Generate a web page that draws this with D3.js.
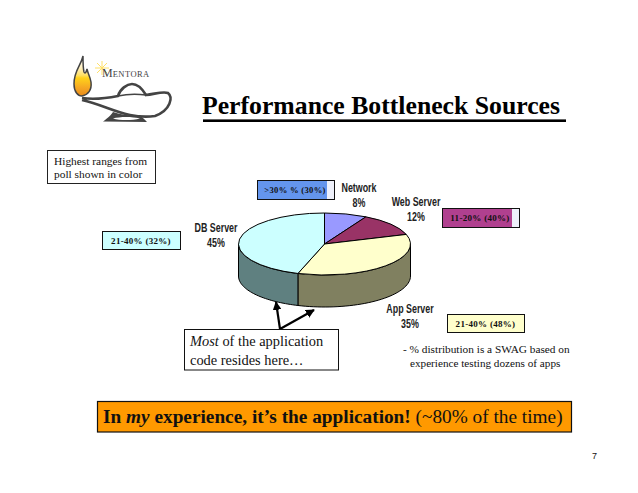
<!DOCTYPE html>
<html><head><meta charset="utf-8">
<script src="https://cdn.jsdelivr.net/npm/d3@7"></script>
<style>html,body{margin:0;padding:0;background:#fff}svg{display:block}
text{font-family:"Liberation Serif",serif;fill:#111}
.lab{font-family:"Liberation Sans",sans-serif;font-weight:700;font-size:12px;text-anchor:middle;fill:#222}
</style></head><body>
<svg id="c" width="638" height="493"></svg>
<script>
const categories=["Network","Web Server","App Server","DB Server"];
const shares=[8,12,35,45];
const topColors=["#9999ff","#993366","#ffffcc","#ccffff"];
const sideColors=["#5c5c99","#5c1f3d","#808060","#5f8080"];
const labelAnchors=[[359,192],[416,206],[410,313],[216,232]];
const pollLabels=[">30% % (30%)","11-20% (40%)","21-40% (48%)","21-40% (32%)"];
const pollFills=["#6495ed","#b0408f","#ffffcc","#ccffff"];
const pollBoxes=[[257,180,77,19,327],[442,208,77,19,512],[447,314,77,18,null],[102,231,78,18,null]];

const svg=d3.select("#c");
const defs=svg.append("defs");
const fg=defs.append("linearGradient").attr("id","fl").attr("x1",0).attr("x2",0).attr("y1",0).attr("y2",1);
[[0,"#ffffff"],[.3,"#fff0c0"],[.48,"#ffe066"],[.55,"#ffd21a"],[.8,"#f5a623"],[1,"#e88a1a"]].forEach(d=>fg.append("stop").attr("offset",d[0]).attr("stop-color",d[1]));
const mk=defs.append("marker").attr("id","ah").attr("viewBox","0 0 10 10").attr("refX",9).attr("refY",5).attr("markerWidth",4).attr("markerHeight",4).attr("orient","auto");
mk.append("path").attr("d","M0,0L10,5L0,10z").attr("fill","#000");

// logo
const logo=svg.append("g");
logo.append("path").attr("d","M83,56C81,66 74,70 74,84C74,92 78,96 82,96C88,95 92,90 91,82C90,76 88,74 87,69C86,73 85,74 84,72C83,68 83,62 83,56Z").attr("fill","url(#fl)").attr("stroke","#444").attr("stroke-width",1.5);
logo.append("path").attr("fill","none").attr("stroke","#444").attr("stroke-width",2.6)
 .attr("d","M82,98C95,100 108,98 118,96C120,89 127,84 132,84C139,84 143,90 146,95C155,94 163,91 168,93C173,97 171,110 155,116C148,117 140,117 130,115C115,112 100,104 82,100");
logo.append("path").attr("fill","none").attr("stroke","#444").attr("stroke-width",1.6).attr("d","M118,96C127,94 138,94 146,95");
logo.append("path").attr("fill","#444").attr("fill-rule","evenodd")
 .attr("d","M103,121.5C108,118 112,114 113,112C125,116 135,116 140,115C142,117 145,120 147,122Z M113,118.5C120,116.5 132,116.5 140,118.5C132,120.5 120,120.5 113,118.5Z");
logo.append("g").attr("stroke","#ffe066").attr("stroke-width",1).selectAll("line").data(d3.range(8)).join("line")
 .attr("x1",102).attr("y1",68).attr("x2",d=>102+7*Math.cos(d*Math.PI/4)).attr("y2",d=>68+7*Math.sin(d*Math.PI/4));
const mt=logo.append("text").attr("x",102).attr("y",77).style("fill","#444");
mt.append("tspan").attr("font-size",12).text("M");
mt.append("tspan").attr("font-size",8.5).attr("letter-spacing",.45).text("ENTORA");

// title
svg.append("text").attr("x",202).attr("y",114).attr("font-size",24.5).attr("font-weight",700).attr("textLength",358).attr("lengthAdjust","spacingAndGlyphs").style("fill","#000").text("Performance Bottleneck Sources");
svg.append("rect").attr("x",203).attr("y",119.4).attr("width",363).attr("height",2.6).attr("fill","#000");

// note box
svg.append("rect").attr("x",47.5).attr("y",150.5).attr("width",108).attr("height",33).attr("fill","#fff").attr("stroke","#222");
["Highest ranges from","poll shown in color"].forEach((t,i)=>svg.append("text").attr("x",54).attr("y",165+i*12.5).attr("font-size",11.4).text(t));

// pie
const cx=324.5,cy=244,rx=86,ry=31,depth=32;
const pie=d3.pie().sort(null).value(d=>d)(shares);
const px=a=>cx+rx*Math.sin(a), py=a=>cy-ry*Math.cos(a);
const side=(a0,a1)=>{
  const p=d3.path();
  const lo=Math.max(a0,Math.PI/2), hi=Math.min(a1,3*Math.PI/2);
  if(hi<=lo) return null;
  const pts=d3.range(0,41).map(i=>lo+(hi-lo)*i/40);
  p.moveTo(px(pts[0]),py(pts[0]));
  pts.forEach(a=>p.lineTo(px(a),py(a)));
  pts.slice().reverse().forEach(a=>p.lineTo(px(a),py(a)+depth));
  p.closePath();
  return p.toString();
};
const pg=svg.append("g");
pg.selectAll("path.side").data(pie).join("path").attr("class","side")
 .attr("d",d=>side(d.startAngle,d.endAngle)).attr("fill",(d,i)=>sideColors[i]).attr("stroke","#000").attr("stroke-width",1);
const arc=d3.arc().innerRadius(0).outerRadius(rx);
pg.append("g").attr("transform",`translate(${cx},${cy}) scale(1,${ry/rx})`)
 .selectAll("path").data(pie).join("path").attr("d",arc).attr("fill",(d,i)=>topColors[i])
 .attr("stroke","#000").attr("stroke-width",1).attr("vector-effect","non-scaling-stroke");

// category labels (condensed)
const narrow=s=>{const n=s.node();n.setAttribute("textLength",n.getComputedTextLength()*0.74);n.setAttribute("lengthAdjust","spacingAndGlyphs");};
categories.forEach((c,i)=>{
  const [x,y]=labelAnchors[i];
  narrow(svg.append("text").attr("class","lab").attr("x",x).attr("y",y).text(c));
  narrow(svg.append("text").attr("class","lab").attr("x",x).attr("y",y+14.5).text(shares[i]+"%"));
});

// poll boxes
pollBoxes.forEach((b,i)=>{
  const [x,y,w,h,split]=b;
  svg.append("rect").attr("x",x+.5).attr("y",y+.5).attr("width",w).attr("height",h).attr("fill",split?"#eef0fa":pollFills[i]).attr("stroke","#111");
  if(split) svg.append("rect").attr("x",x+1).attr("y",y+1).attr("width",split-x-1).attr("height",h-1).attr("fill",pollFills[i]);
  svg.append("text").attr("x",x+(split?(split-x)/2+3:w/2)).attr("y",y+h/2+3.5).attr("text-anchor","middle").attr("font-size",i==0?8.6:9).attr("font-weight",700).attr("letter-spacing",.3).text(pollLabels[i]);
});

// callout
svg.append("line").attr("x1",280).attr("y1",329).attr("x2",276).attr("y2",302).attr("stroke","#000").attr("stroke-width",2.2).attr("marker-end","url(#ah)");
svg.append("line").attr("x1",280).attr("y1",329).attr("x2",314).attr("y2",310).attr("stroke","#000").attr("stroke-width",2.2).attr("marker-end","url(#ah)");
svg.append("rect").attr("x",184.5).attr("y",329.5).attr("width",154).attr("height",40.5).attr("fill","#fff").attr("stroke","#111");
const m1=svg.append("text").attr("x",190).attr("y",346).attr("font-size",14.4);
m1.append("tspan").attr("font-style","italic").text("Most");m1.append("tspan").text(" of the application");
svg.append("text").attr("x",190).attr("y",364.5).attr("font-size",14.4).text("code resides here…");

// side note
svg.append("text").attr("x",403).attr("y",352.5).attr("font-size",11.3).text("- % distribution is a SWAG based on");
svg.append("text").attr("x",410).attr("y",367).attr("font-size",11.2).text("experience testing dozens of apps");

// banner
svg.append("rect").attr("x",97.5).attr("y",401.5).attr("width",474).attr("height",30.5).attr("fill","#ff9900").attr("stroke","#111").attr("stroke-width",1.2);
const bt=svg.append("text").attr("x",103).attr("y",423).attr("font-size",19.3);
bt.append("tspan").attr("font-weight",700).text("In ");
bt.append("tspan").attr("font-weight",700).attr("font-style","italic").text("my");
bt.append("tspan").attr("font-weight",700).text(" experience, it’s the application!");
bt.append("tspan").text(" (~80% of the time)");

svg.append("text").attr("x",592).attr("y",459).attr("font-size",9).style("font-family","Liberation Sans").text("7");
</script></body></html>
